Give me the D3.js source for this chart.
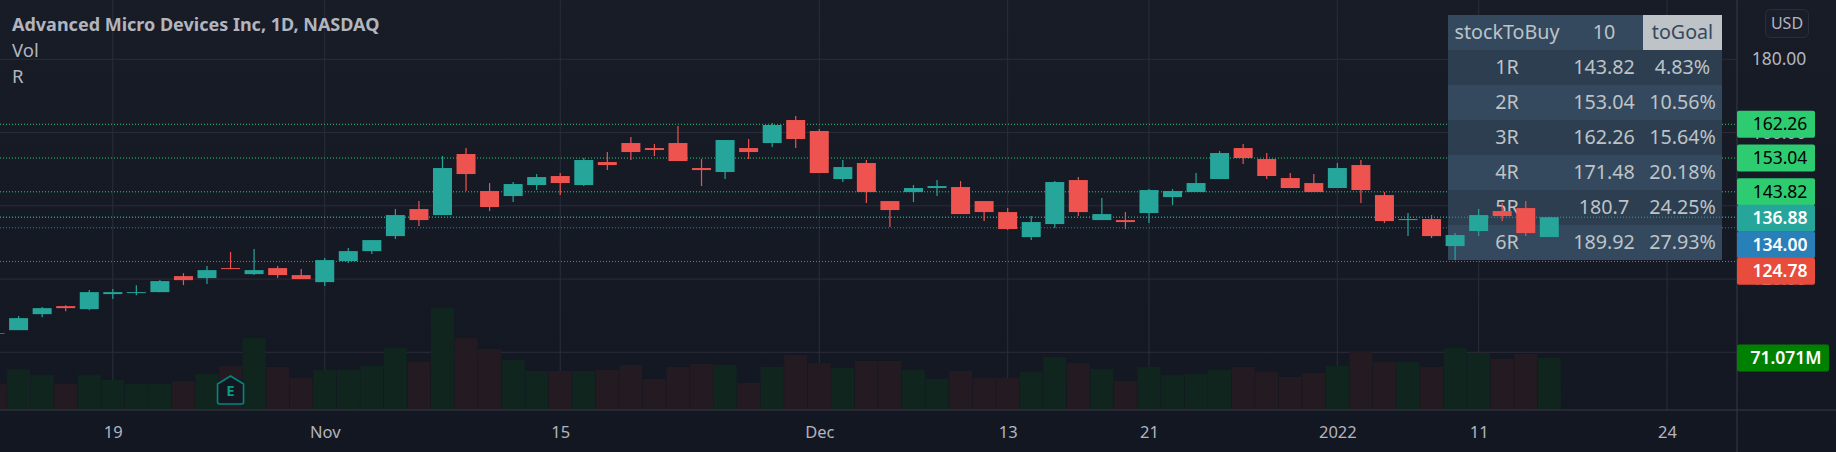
<!DOCTYPE html>
<html>
<head>
<meta charset="utf-8">
<script src="https://cdnjs.cloudflare.com/ajax/libs/d3/7.8.5/d3.min.js"></script>
<style>
  html, body { margin: 0; padding: 0; background: #131722; overflow: hidden; }
  svg { display: block; background: linear-gradient(#181c27, #131722); }
  text { font-family: "Noto Sans", sans-serif; }
</style>
</head>
<body>
<svg id="chart" width="1836" height="452"></svg>
<script>
// daily bars (first one is cut by the left edge)
var opens = [105.23,106.05,110.42,112.61,111.79,115.89,116.16,116.43,120.80,120.26,122.99,121.35,122.99,121.08,119.16,124.90,127.63,131.73,139.11,137.47,154.14,144.03,142.66,145.67,148.13,145.67,151.95,157.14,155.77,157.14,150.31,149.22,155.77,157.14,163.42,160.42,147.31,151.68,141.29,143.75,144.85,145.12,141.29,138.29,131.46,135.01,147.03,136.10,136.10,138.02,142.39,143.75,147.31,155.77,152.77,147.58,146.21,144.85,151.13,142.93,136.10,136.38,129.00,133.10,138.56,139.38,131.46];
var highs = [105.23,109.88,112.34,112.88,116.98,117.25,118.34,119.71,121.62,123.54,127.36,128.18,123.54,122.72,125.72,128.45,130.64,139.11,141.29,153.59,155.77,146.21,146.49,148.67,148.94,153.04,154.68,158.78,156.87,161.79,152.77,157.96,158.23,162.61,164.52,160.97,152.50,152.50,141.29,145.67,147.03,146.76,141.29,139.38,137.20,146.76,147.85,142.11,138.29,144.57,144.57,148.94,154.96,156.87,154.41,148.94,148.67,151.68,152.50,143.75,138.02,137.47,132.55,139.11,140.75,141.29,136.92];
var lows = [105.05,106.05,109.60,111.24,111.51,114.52,115.61,116.43,118.34,118.62,122.72,121.08,120.26,119.98,118.07,124.36,126.81,130.91,134.47,137.47,144.03,138.56,141.02,144.30,142.93,145.39,149.76,152.50,153.59,152.22,145.39,147.31,152.77,156.05,155.77,148.94,146.49,140.75,134.19,141.02,142.66,137.74,135.83,133.37,130.64,133.92,137.20,136.10,133.65,135.28,140.20,143.75,147.31,151.40,147.31,144.85,143.75,144.85,140.75,135.28,131.73,131.19,125.18,131.73,135.83,131.73,131.46];
var closes = [105.05,109.33,112.06,112.06,116.43,116.43,116.43,119.44,119.71,122.44,122.72,122.44,121.08,119.98,125.18,127.63,130.64,137.47,136.10,150.31,148.67,139.66,145.94,147.85,146.21,152.50,151.13,154.68,155.23,152.22,149.76,157.96,154.68,162.06,158.23,148.94,150.58,143.75,138.84,144.85,145.39,137.74,138.29,133.65,135.56,146.49,138.29,137.74,135.56,144.30,144.03,146.21,154.41,153.04,148.13,144.85,143.75,150.31,144.30,135.83,136.38,131.73,132.01,137.47,137.20,132.55,136.88];
var volumes = [35.5,56.0,47.8,35.5,47.8,41.0,35.5,35.5,39.6,49.2,60.1,98.4,58.8,43.7,54.7,54.7,60.1,84.7,65.6,139.4,98.4,83.4,68.3,53.3,53.3,53.3,54.7,61.5,42.4,58.8,62.9,61.5,36.9,58.8,75.2,64.2,57.4,67.0,67.0,54.7,42.4,53.3,43.7,43.7,51.9,72.4,64.2,56.0,39.6,58.8,47.8,49.2,54.7,58.8,51.9,45.1,50.6,60.1,80.6,65.6,65.6,58.8,84.7,77.9,69.7,76.5,71.071];

var timeTicks = [5, 14, 24, 35, 43, 49, 57, 63, 71];
var timeLabels = ['19', 'Nov', '15', 'Dec', '13', '21', '2022', '11', '24'];
var priceTicks = [180, 160, 140, 120, 100];

var levelPrices = [162.26, 153.04, 143.82, 136.88, 134.00, 124.78];
var levelNames = ['3R', '2R', '1R', 'last', 'entry', 'stop'];

var tableHeader = ['stockToBuy', '10', 'toGoal'];
var tableNames = ['1R', '2R', '3R', '4R', '5R', '6R'];
var tablePrices = ['143.82', '153.04', '162.26', '171.48', '180.7', '189.92'];
var tableGoals = ['4.83%', '10.56%', '15.64%', '20.18%', '24.25%', '27.93%'];

var earningsBars = [10];
var lastVolumeLabel = '71.071M';

var col_up = '#26a69a';
var col_down = '#ef5350';
var col_volUp = '#11251f';
var col_volDown = '#231a22';
var col_grid = '#2a2e39';
var col_text = '#b2b5be';
var col_table = '#bdc3c7';
var col_rowA = '#2c3e50';
var col_rowB = '#34495e';
var levelColors = {'3R': '#2ecc71', '2R': '#2ecc71', '1R': '#2ecc71', 'last': '#26a69a', 'entry': '#2980b9', 'stop': '#e74c3c'};

var width = 1836;
var plotRight = 1737;
var plotBottom = 410;
var bodyWidth = 19;
var volWidth = 23;
var labelStep = 26.5;

var x = d3.scaleLinear().domain([0, 66]).range([-4.95, 1549.3]);
var y = d3.scaleLinear().domain([180, 100]).range([59.3, 352.3]);
var yVol = d3.scaleLinear().domain([0, 71.071]).range([plotBottom, 358]);

var svg = d3.select('#chart');

// grid
var grid = svg.append('g');
grid.selectAll('line.v').data(timeTicks).enter().append('line')
    .attr('x1', function(d) { return x(d); })
    .attr('x2', function(d) { return x(d); })
    .attr('y1', 0).attr('y2', plotBottom)
    .attr('stroke', col_grid);
grid.selectAll('line.h').data(priceTicks).enter().append('line')
    .attr('x1', 0).attr('x2', plotRight)
    .attr('y1', function(d) { return y(d); })
    .attr('y2', function(d) { return y(d); })
    .attr('stroke', col_grid);

// volume
svg.append('g').selectAll('rect').data(volumes).enter().append('rect')
    .attr('x', function(d, i) { return x(i) - volWidth / 2; })
    .attr('width', volWidth)
    .attr('y', function(d) { return yVol(d); })
    .attr('height', function(d) { return plotBottom - yVol(d); })
    .attr('fill', function(d, i) { return closes[i] >= opens[i] ? col_volUp : col_volDown; });

// goal lines, the table hides all of them except the last price
svg.append('g').selectAll('line').data(levelPrices).enter().append('line')
    .attr('x1', 0).attr('x2', plotRight)
    .attr('y1', function(d) { return y(d); })
    .attr('y2', function(d) { return y(d); })
    .attr('stroke', function(d, i) { return levelColors[levelNames[i]]; })
    .attr('stroke-dasharray', '1 2');

// table
var tableX = [1448, 1643, 1722];
var colCenter = [1507, 1604, 1682.5];
var rowTop = 15;
var rowH = 35;
var table = svg.append('g');
table.append('rect').attr('x', tableX[0]).attr('y', rowTop)
    .attr('width', tableX[1] - tableX[0]).attr('height', rowH).attr('fill', col_rowB);
table.append('rect').attr('x', tableX[1]).attr('y', rowTop)
    .attr('width', tableX[2] - tableX[1]).attr('height', rowH).attr('fill', col_table);
table.selectAll('text.head').data(tableHeader).enter().append('text')
    .attr('class', 'head')
    .attr('x', function(d, i) { return colCenter[i]; })
    .attr('y', rowTop + rowH / 2)
    .attr('dy', '.35em')
    .attr('text-anchor', 'middle')
    .style('font-size', '19.7px')
    .attr('fill', function(d, i) { return i == 2 ? col_rowB : col_table; })
    .text(function(d) { return d; });
tableNames.forEach(function(name, i) {
    var top = rowTop + rowH * (i + 1);
    table.append('rect').attr('x', tableX[0]).attr('y', top)
        .attr('width', tableX[2] - tableX[0]).attr('height', rowH)
        .attr('fill', i % 2 == 0 ? col_rowA : col_rowB);
    table.selectAll('text.r' + i).data([name, tablePrices[i], tableGoals[i]]).enter().append('text')
        .attr('class', 'r' + i)
        .attr('x', function(d, j) { return colCenter[j]; })
        .attr('y', top + rowH / 2)
        .attr('dy', '.35em')
        .attr('text-anchor', 'middle')
        .style('font-size', '19.7px')
        .attr('fill', col_table)
        .text(function(d) { return d; });
});

// last price line runs over the table
var lastIdx = levelNames.indexOf('last');
svg.append('line')
    .attr('x1', 0).attr('x2', plotRight)
    .attr('y1', y(levelPrices[lastIdx]))
    .attr('y2', y(levelPrices[lastIdx]))
    .attr('stroke', levelColors.last)
    .attr('stroke-dasharray', '1 2');

// candles
var candles = svg.append('g').selectAll('g').data(opens).enter().append('g')
    .attr('fill', function(d, i) { return closes[i] >= opens[i] ? col_up : col_down; })
    .attr('stroke', function(d, i) { return closes[i] >= opens[i] ? col_up : col_down; });
candles.append('line')
    .attr('x1', function(d, i) { return x(i); })
    .attr('x2', function(d, i) { return x(i); })
    .attr('y1', function(d, i) { return y(highs[i]); })
    .attr('y2', function(d, i) { return y(lows[i]); })
    .attr('stroke-width', 1.2);
candles.append('rect')
    .attr('x', function(d, i) { return x(i) - bodyWidth / 2; })
    .attr('width', bodyWidth)
    .attr('y', function(d, i) { return y(Math.max(opens[i], closes[i])); })
    .attr('height', function(d, i) { return Math.abs(y(opens[i]) - y(closes[i])); })
    .attr('stroke', 'none');

// earnings marker
var earnings = svg.append('g').selectAll('g').data(earningsBars).enter().append('g')
    .attr('transform', function(d) { return 'translate(' + x(d) + ',' + 405 + ')'; });
earnings.append('path')
    .attr('d', 'M-13,-3 L-13,-21 L0,-29 L13,-21 L13,-3 Q13,-1 11,-1 L-11,-1 Q-13,-1 -13,-3 Z')
    .attr('fill', '#131722')
    .attr('stroke', '#00897b')
    .attr('stroke-width', 1.6);
earnings.append('text')
    .attr('y', -9)
    .attr('text-anchor', 'middle')
    .style('font-size', '15px')
    .style('font-weight', 'bold')
    .attr('fill', '#089981')
    .text('E');

// axes
svg.append('line').attr('x1', 0).attr('x2', width).attr('y1', plotBottom).attr('y2', plotBottom).attr('stroke', '#363a45');
svg.append('line').attr('x1', plotRight).attr('x2', plotRight).attr('y1', 0).attr('y2', 452).attr('stroke', '#363a45');

var timeAxis = d3.axisBottom(x)
    .tickValues(timeTicks)
    .tickSize(0)
    .tickFormat(function(d, i) { return timeLabels[i]; });
var timeG = svg.append('g').attr('transform', 'translate(0,' + plotBottom + ')').call(timeAxis);
timeG.select('.domain').remove();
timeG.selectAll('text')
    .attr('y', 22)
    .attr('dy', '.35em')
    .attr('fill', col_text)
    .style('font-size', '16.5px');

var priceAxis = d3.axisRight(y)
    .tickValues(priceTicks)
    .tickSize(0)
    .tickFormat(d3.format('.2f'));
var priceG = svg.append('g').attr('transform', 'translate(' + plotRight + ',0)').call(priceAxis);
priceG.select('.domain').remove();
priceG.selectAll('text')
    .attr('x', 42)
    .attr('text-anchor', 'middle')
    .attr('fill', col_text)
    .style('font-size', '17.5px');

// price labels, pushed down when they would overlap
var prevY = -100;
var labelY = levelPrices.map(function(p) {
    prevY = Math.max(y(p), prevY + labelStep);
    return prevY;
});
var labels = svg.append('g').selectAll('g').data(levelPrices).enter().append('g')
    .attr('transform', function(d, i) { return 'translate(' + plotRight + ',' + labelY[i] + ')'; });
labels.append('rect')
    .attr('y', -13.5).attr('width', 78).attr('height', 27).attr('rx', 2)
    .attr('fill', function(d, i) { return levelColors[levelNames[i]]; });
labels.append('text')
    .attr('x', 43)
    .attr('dy', '.35em')
    .attr('text-anchor', 'middle')
    .style('font-size', '17.5px')
    .style('font-weight', function(d, i) { return levelNames[i].indexOf('R') == 1 ? 400 : 600; })
    .attr('fill', function(d, i) { return levelNames[i].indexOf('R') == 1 ? '#000000' : '#ffffff'; })
    .text(function(d) { return d.toFixed(2); });

// volume label
var volLabel = svg.append('g')
    .attr('transform', 'translate(' + plotRight + ',' + yVol(volumes[volumes.length - 1]) + ')');
volLabel.append('rect').attr('y', -13.5).attr('width', 92).attr('height', 27).attr('rx', 2).attr('fill', '#008000');
volLabel.append('text').attr('x', 49).attr('dy', '.35em').attr('text-anchor', 'middle')
    .style('font-size', '17.5px').style('font-weight', 600).attr('fill', '#ffffff').text(lastVolumeLabel);

// currency badge
svg.append('rect').attr('x', 1765.5).attr('y', 9.5).attr('width', 43).attr('height', 28).attr('rx', 5)
    .attr('fill', '#1a1e2a').attr('stroke', col_grid);
svg.append('text').attr('x', 1787).attr('y', 23).attr('dy', '.35em').attr('text-anchor', 'middle')
    .style('font-size', '16px').attr('fill', col_text).text('USD');

// legend
svg.append('text').attr('x', 12).attr('y', 31).style('font-size', '18px').style('font-weight', 'bold')
    .attr('fill', col_text).text('Advanced Micro Devices Inc, 1D, NASDAQ');
svg.append('text').attr('x', 12).attr('y', 57).style('font-size', '18.5px').attr('fill', col_text).text('Vol');
svg.append('text').attr('x', 12).attr('y', 83).style('font-size', '18.5px').attr('fill', col_text).text('R');
</script>
</body>
</html>
